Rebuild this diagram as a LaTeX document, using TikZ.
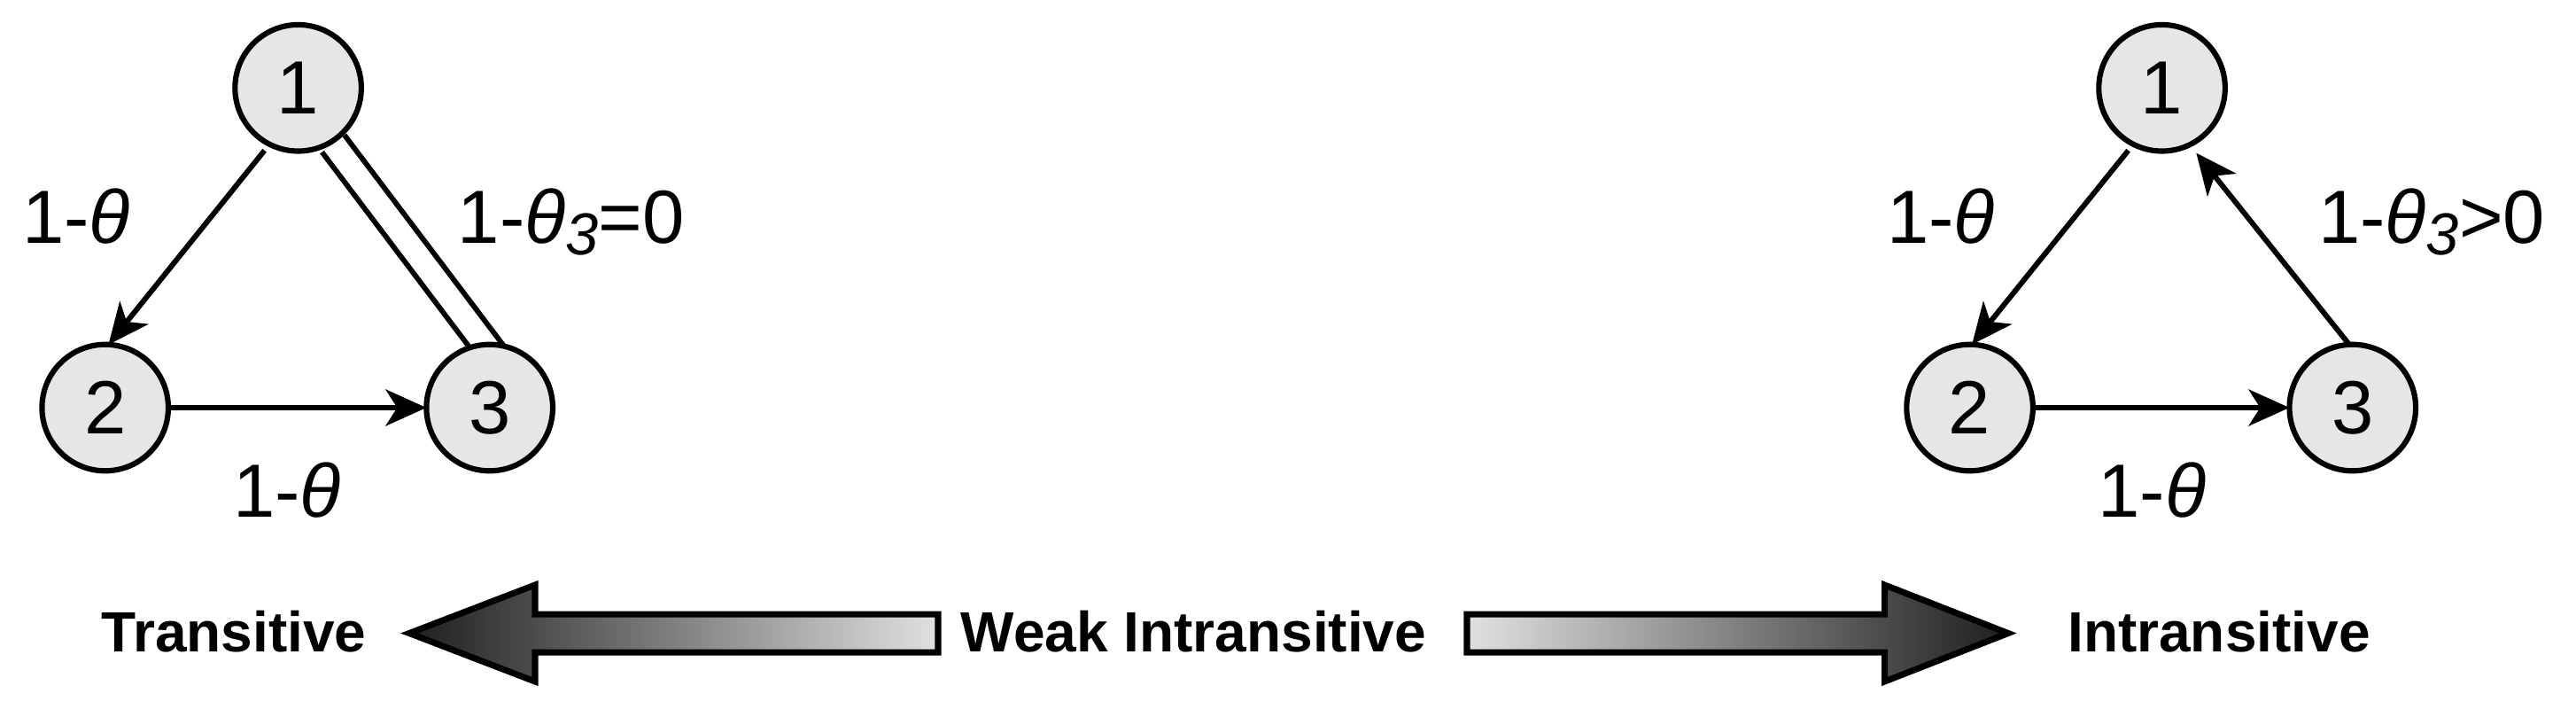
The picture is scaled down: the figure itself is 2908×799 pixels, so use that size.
\documentclass[tikz,border=0pt]{standalone}
\usepackage{fontspec}
\setmainfont{Liberation Sans}
\usetikzlibrary{arrows.meta}
\pgfdeclarelayer{background}
\pgfsetlayers{background,main}
\definecolor{nodefill}{RGB}{230,230,230}
\newcommand\subthree{\raisebox{-0.16em}{\fontsize{19}{22}\selectfont\textit{3}}}
\begin{document}
\begin{tikzpicture}[x=0.01cm,y=-0.01cm,
  state/.style={circle,draw=black,fill=nodefill,line width=1.75pt,minimum size=1.425cm,inner sep=0pt,outer sep=0pt,font=\fontsize{24.2}{29}\selectfont},
  edge/.style={line width=1.7pt,-{Stealth[length=13.1pt,width=11.7pt,inset=3.7pt]}},
  dbl/.style={line width=1.7pt,double=white,double distance=7.3pt},
  lbl/.style={anchor=base,inner sep=0pt,font=\fontsize{24.2}{29}\selectfont},
  captxt/.style={anchor=base,inner sep=0pt,font=\fontsize{18.2}{22}\selectfont\bfseries},
  bigarrow/.style={draw=black,line width=2pt,line join=miter}]
\useasboundingbox (0,0) rectangle (2908,799);

% left graph
\node[state] (a1) at (336.6,99.2) {1};
\node[state] (a2) at (118.7,460) {2};
\node[state] (a3) at (552.7,460) {3};
\draw[edge,shorten <=2.56pt] (a1.-117.8) -- (a2.87);
\draw[edge] (a2.east) -- (a3.west);
\begin{pgfonlayer}{background}
\draw[dbl,shorten <=0.85pt,shorten >=-7.1pt] (a1.-58.5) -- (a3.94);
\end{pgfonlayer}
\node[lbl] (la12) at (86,274) {1-\textit{θ}};
\node[lbl] (la13) at (645,274) {1-\textit{θ}\subthree=0};
\node[lbl] (la23) at (324,583) {1-\textit{θ}};

% right graph
\node[state] (b1) at (2440.6,99.2) {1};
\node[state] (b2) at (2223.6,460) {2};
\node[state] (b3) at (2655.8,460) {3};
\draw[edge,shorten <=2.56pt] (b1.-117.8) -- (b2.88);
\draw[edge] (b2.east) -- (b3.west);
\draw[edge,shorten >=3.41pt] (b3.93.6) -- (b1.-64);
\node[lbl] (lb12) at (2191,274) {1-\textit{θ}};
\node[lbl] (lb31) at (2745,274) {1-\textit{θ}\subthree>0};
\node[lbl] (lb23) at (2429.5,583) {1-\textit{θ}};

% bottom row
\node[captxt] (trans) at (264,735) {Transitive};
\node[captxt] (weak) at (1347.5,735) {Weak Intransitive};
\node[captxt] (intrans) at (2505,735) {Intransitive};

\path[bigarrow,left color=black!88,right color=black!12]
  (462,714.5) -- (604,660) -- (604,693) -- (1059,693) -- (1059,736) -- (604,736) -- (604,769) -- cycle;
\path[bigarrow,left color=black!12,right color=black!88]
  (2267,714.5) -- (2127.5,660) -- (2127.5,693) -- (1656,693) -- (1656,736) -- (2127.5,736) -- (2127.5,769) -- cycle;
\end{tikzpicture}
\end{document}
